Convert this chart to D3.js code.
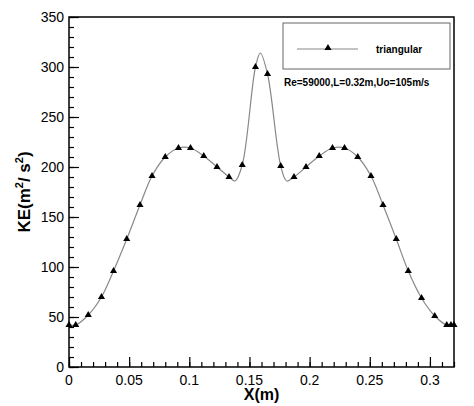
<!DOCTYPE html>
<html><head><meta charset="utf-8">
<script src="https://cdn.jsdelivr.net/npm/d3@7"></script>
<style>body{margin:0;background:#fff}text{font-family:"Liberation Sans",Arial,sans-serif}</style>
</head><body><div id="chart"></div>
<script>
// marker points
var xs = [0, 0.0056, 0.016, 0.027, 0.037, 0.048, 0.059, 0.069, 0.080, 0.091, 0.101, 0.112, 0.123, 0.133,
          0.144, 0.155, 0.165, 0.176, 0.187, 0.197, 0.208, 0.219, 0.229, 0.240, 0.251, 0.261, 0.272, 0.282,
          0.293, 0.304, 0.314, 0.3175, 0.32];
var ke = [42, 42, 52, 70, 96, 128, 162, 191, 210, 219, 219, 211, 200, 190,
          202, 300, 293, 201, 190, 200, 211, 219, 219, 210, 191, 162, 128, 96,
          69, 51, 42, 42, 42];
// extra curve points (peak and dips between markers)
var extraX = [0.138, 0.159, 0.181];
var extraKE = [186, 314, 186];
var xTicks = [0, 0.05, 0.1, 0.15, 0.2, 0.25, 0.3];
var yTicks = [0, 50, 100, 150, 200, 250, 300, 350];

var W = 474, H = 406, L = 69, R = 454, T = 17, B = 367;
var svg = d3.select("#chart").append("svg").attr("width", W).attr("height", H);
var x = d3.scaleLinear().domain([0, 0.32]).range([L, R]);
var y = d3.scaleLinear().domain([0, 350]).range([B, T]);

var pts = xs.map((v, i) => [v, ke[i]]);
var curvePts = pts.concat(extraX.map((v, i) => [v, extraKE[i]])).sort((a, b) => a[0] - b[0]);

svg.append("path").datum(curvePts)
    .attr("fill", "none").attr("stroke", "#888").attr("stroke-width", 1.2)
    .attr("d", d3.line().x(d => x(d[0])).y(d => y(d[1])).curve(d3.curveCatmullRom.alpha(0.5)));

var tri = d3.symbol().type(d3.symbolTriangle).size(22);
svg.selectAll(".m").data(pts).enter().append("path")
    .attr("d", tri).attr("transform", d => "translate(" + x(d[0]) + "," + y(d[1]) + ")")
    .attr("fill", "#000");

// frame
svg.append("rect").attr("x", L).attr("y", T).attr("width", R - L).attr("height", B - T)
    .attr("fill", "none").attr("stroke", "#000").attr("stroke-width", 1.5);

// axes
var xa = svg.append("g").attr("transform", "translate(0," + B + ")");
xa.call(d3.axisTop(x).tickValues(d3.range(0, 0.3201, 0.01)).tickSize(5).tickFormat(""));
xa.call(g => g.selectAll(".domain").remove());
var xb = svg.append("g").attr("transform", "translate(0," + B + ")")
    .call(d3.axisTop(x).tickValues(xTicks).tickSize(10).tickFormat(""));
xb.select(".domain").remove();
svg.append("g").selectAll("text").data(xTicks).enter().append("text")
    .attr("x", d => x(d)).attr("y", B + 18).attr("text-anchor", "middle")
    .attr("font-size", 14).text(d => d);

var ya = svg.append("g").attr("transform", "translate(" + L + ",0)")
    .call(d3.axisRight(y).tickValues(d3.range(0, 351, 10)).tickSize(5).tickFormat(""));
ya.select(".domain").remove();
var yb = svg.append("g").attr("transform", "translate(" + L + ",0)")
    .call(d3.axisRight(y).tickValues(yTicks).tickSize(10).tickFormat(""));
yb.select(".domain").remove();
svg.selectAll("g.tick line").attr("stroke", "#000").attr("stroke-width", 1.2);
svg.append("g").selectAll("text").data(yTicks).enter().append("text")
    .attr("x", L - 5).attr("y", d => y(d) + 5).attr("text-anchor", "end")
    .attr("font-size", 14).text(d => d);

// titles
svg.append("text").attr("x", (L + R) / 2).attr("y", 400).attr("text-anchor", "middle")
    .attr("font-size", 16).attr("font-weight", "bold").text("X(m)");
var yt = svg.append("text").attr("transform", "translate(30," + ((T + B) / 2) + ") rotate(-90)")
    .attr("text-anchor", "middle").attr("font-size", 17).attr("font-weight", "bold");
yt.append("tspan").text("KE(m");
yt.append("tspan").attr("font-size", 11).attr("dy", -7).text("2");
yt.append("tspan").attr("dy", 7).text("/ s");
yt.append("tspan").attr("font-size", 11).attr("dy", -7).text("2");
yt.append("tspan").attr("dy", 7).text(")");

// legend
svg.append("rect").attr("x", 283).attr("y", 23).attr("width", 167).attr("height", 46)
    .attr("fill", "#fff").attr("stroke", "#666").attr("stroke-width", 1);
svg.append("line").attr("x1", 297).attr("x2", 358).attr("y1", 49).attr("y2", 49)
    .attr("stroke", "#888").attr("stroke-width", 1.2);
svg.append("path").attr("d", tri).attr("transform", "translate(328,48)").attr("fill", "#000");
svg.append("text").attr("x", 376).attr("y", 53).attr("font-size", 10).attr("font-weight", "bold").text("triangular");
svg.append("text").attr("x", 284).attr("y", 86).attr("font-size", 10).attr("font-weight", "bold")
    .text("Re=59000,L=0.32m,Uo=105m/s");
</script></body></html>
